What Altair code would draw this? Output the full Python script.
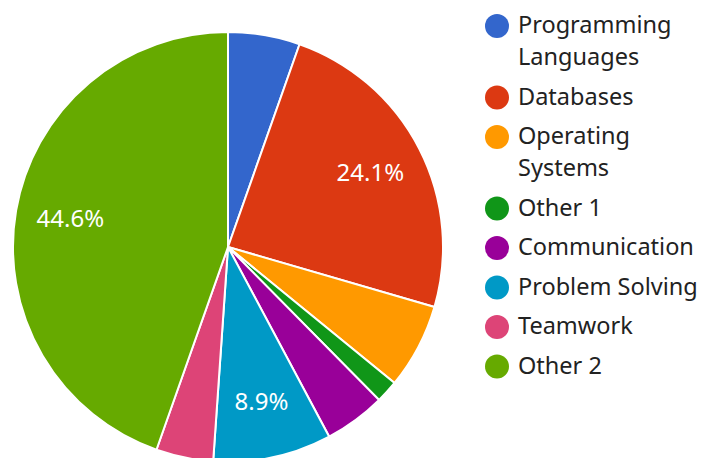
import altair as alt
import pandas as pd

categories = ["Programming Languages", "Databases", "Operating Systems", "Other 1",
              "Communication", "Problem Solving", "Teamwork", "Other 2"]
values = [5.4, 24.1, 6.4, 1.7, 4.6, 8.9, 4.3, 44.6]
colors = ["#3366cc", "#dc3912", "#ff9900", "#109618", "#990099", "#0099c6", "#dd4477", "#66aa00"]

df = pd.DataFrame({"category": categories, "value": values, "order": list(range(len(categories)))})

FONT = "Noto Sans"

base = alt.Chart(df).encode(
    theta=alt.Theta("value:Q", stack=True),
    order=alt.Order("order:Q"),
    x=alt.value(220),
    y=alt.value(239),
)

pie = base.mark_arc(outerRadius=215, stroke="white", strokeWidth=2).encode(
    color=alt.Color(
        "category:N",
        scale=alt.Scale(domain=categories, range=colors),
        sort=categories,
        legend=alt.Legend(
            title=None,
            orient="none",
            legendX=477,
            legendY=6,
            symbolType="circle",
            symbolSize=576,
            symbolStrokeWidth=0,
            symbolOpacity=1,
            labelFontSize=23.5,
            labelFont=FONT,
            labelColor="#222222",
            labelOffset=9,
            labelLimit=300,
            rowPadding=15.5,
            padding=0,
            labelExpr="datum.label == 'Programming Languages' ? ['Programming', 'Languages'] : datum.label == 'Operating Systems' ? ['Operating', 'Systems'] : datum.label",
        ),
    )
)

labels = base.transform_calculate(
    lbl="datum.value >= 8 ? format(datum.value, '.1f') + '%' : ''"
).mark_text(radius=160, fontSize=24, font=FONT, color="white").encode(
    text="lbl:N"
)

chart = alt.layer(pie, labels).properties(
    width=691,
    height=450,
    padding=0,
    autosize=alt.AutoSizeParams(type="none"),
).configure(
    view=alt.ViewConfig(stroke=None),
    style={"guide-label": {"lineHeight": 32}},
)

chart.save("out.html", embed_options={"renderer": "svg", "actions": False})
